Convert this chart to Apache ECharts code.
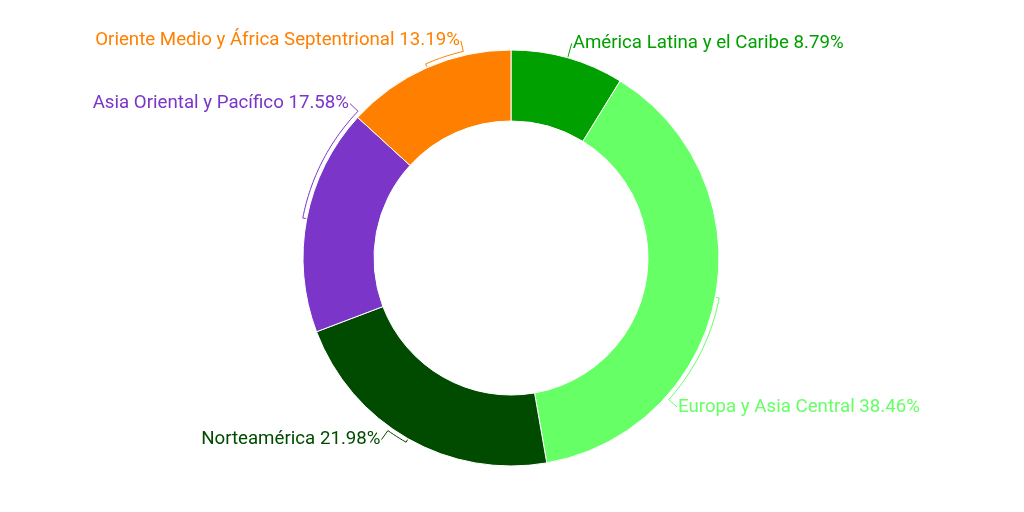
<!DOCTYPE html>
<html>
<head>
<meta charset="utf-8">
<script src="https://cdn.jsdelivr.net/npm/echarts@6/dist/echarts.min.js"></script>
<style>
html,body{margin:0;padding:0;background:#fff}
#echarts_pie{width:1024px;height:512px}
</style>
</head>
<body>
<div id="echarts_pie"></div>
<script>
// regiones y porcentajes
var regiones = ['América Latina y el Caribe', 'Europa y Asia Central', 'Norteamérica', 'Asia Oriental y Pacífico', 'Oriente Medio y África Septentrional'];
var porcentajes = [8.79, 38.46, 21.98, 17.58, 13.19];
var colores = ['#00a000', '#66ff66', '#004b00', '#7b35c8', '#ff8000'];

// angulo (grados, horario desde arriba) donde se coloca cada etiqueta
var anguloEtiqueta = [15.8, 131.9, 215.5, 313.8, 347];

var cx = 511, cy = 258, rIn = 137, rOut = 208;

function punto(r, deg) {
    var a = deg * Math.PI / 180;
    return [cx + r * Math.sin(a), cy - r * Math.cos(a)];
}

var total = porcentajes.reduce(function (s, v) { return s + v; }, 0);
var medios = [], acum = 0;
porcentajes.forEach(function (v) {
    medios.push((acum + v / 2) / total * 360);
    acum += v;
});

var chart = echarts.init(document.getElementById('echarts_pie'));
chart.setOption({
    animation: false,
    series: [{
        type: 'pie',
        center: [cx, cy],
        radius: [rIn, rOut],
        startAngle: 90,
        clockwise: true,
        itemStyle: { borderColor: '#fff', borderWidth: 1 },
        label: {
            show: true,
            fontFamily: 'Roboto',
            fontSize: 18.7,
            overflow: 'none',
            formatter: function (p) { return p.name + ' ' + p.value.toFixed(2) + '%'; },
            color: 'inherit'
        },
        labelLine: { show: true, smooth: false, lineStyle: { width: 1 } },
        labelLayout: function (params) {
            var i = params.dataIndex;
            var m = medios[i], e = anguloEtiqueta[i];
            // corchete: marca radial, arco paralelo al borde y tramo hasta la etiqueta
            var pts = [punto(rOut + 1, m), punto(rOut + 4, m)];
            var step = e > m ? 1 : -1;
            for (var d = m; (e - d) * step > 0; d += step) pts.push(punto(rOut + 4, d));
            pts.push(punto(rOut + 4, e));
            var anc = punto(rOut + 15, e);
            pts.push(anc);
            var izq = e < 180;
            return {
                x: anc[0] + (izq ? 1 : -1),
                y: anc[1],
                align: izq ? 'left' : 'right',
                verticalAlign: 'middle',
                labelLinePoints: pts
            };
        },
        data: regiones.map(function (n, i) {
            return { name: n, value: porcentajes[i], itemStyle: { color: colores[i] } };
        })
    }]
});
</script>
</body>
</html>
